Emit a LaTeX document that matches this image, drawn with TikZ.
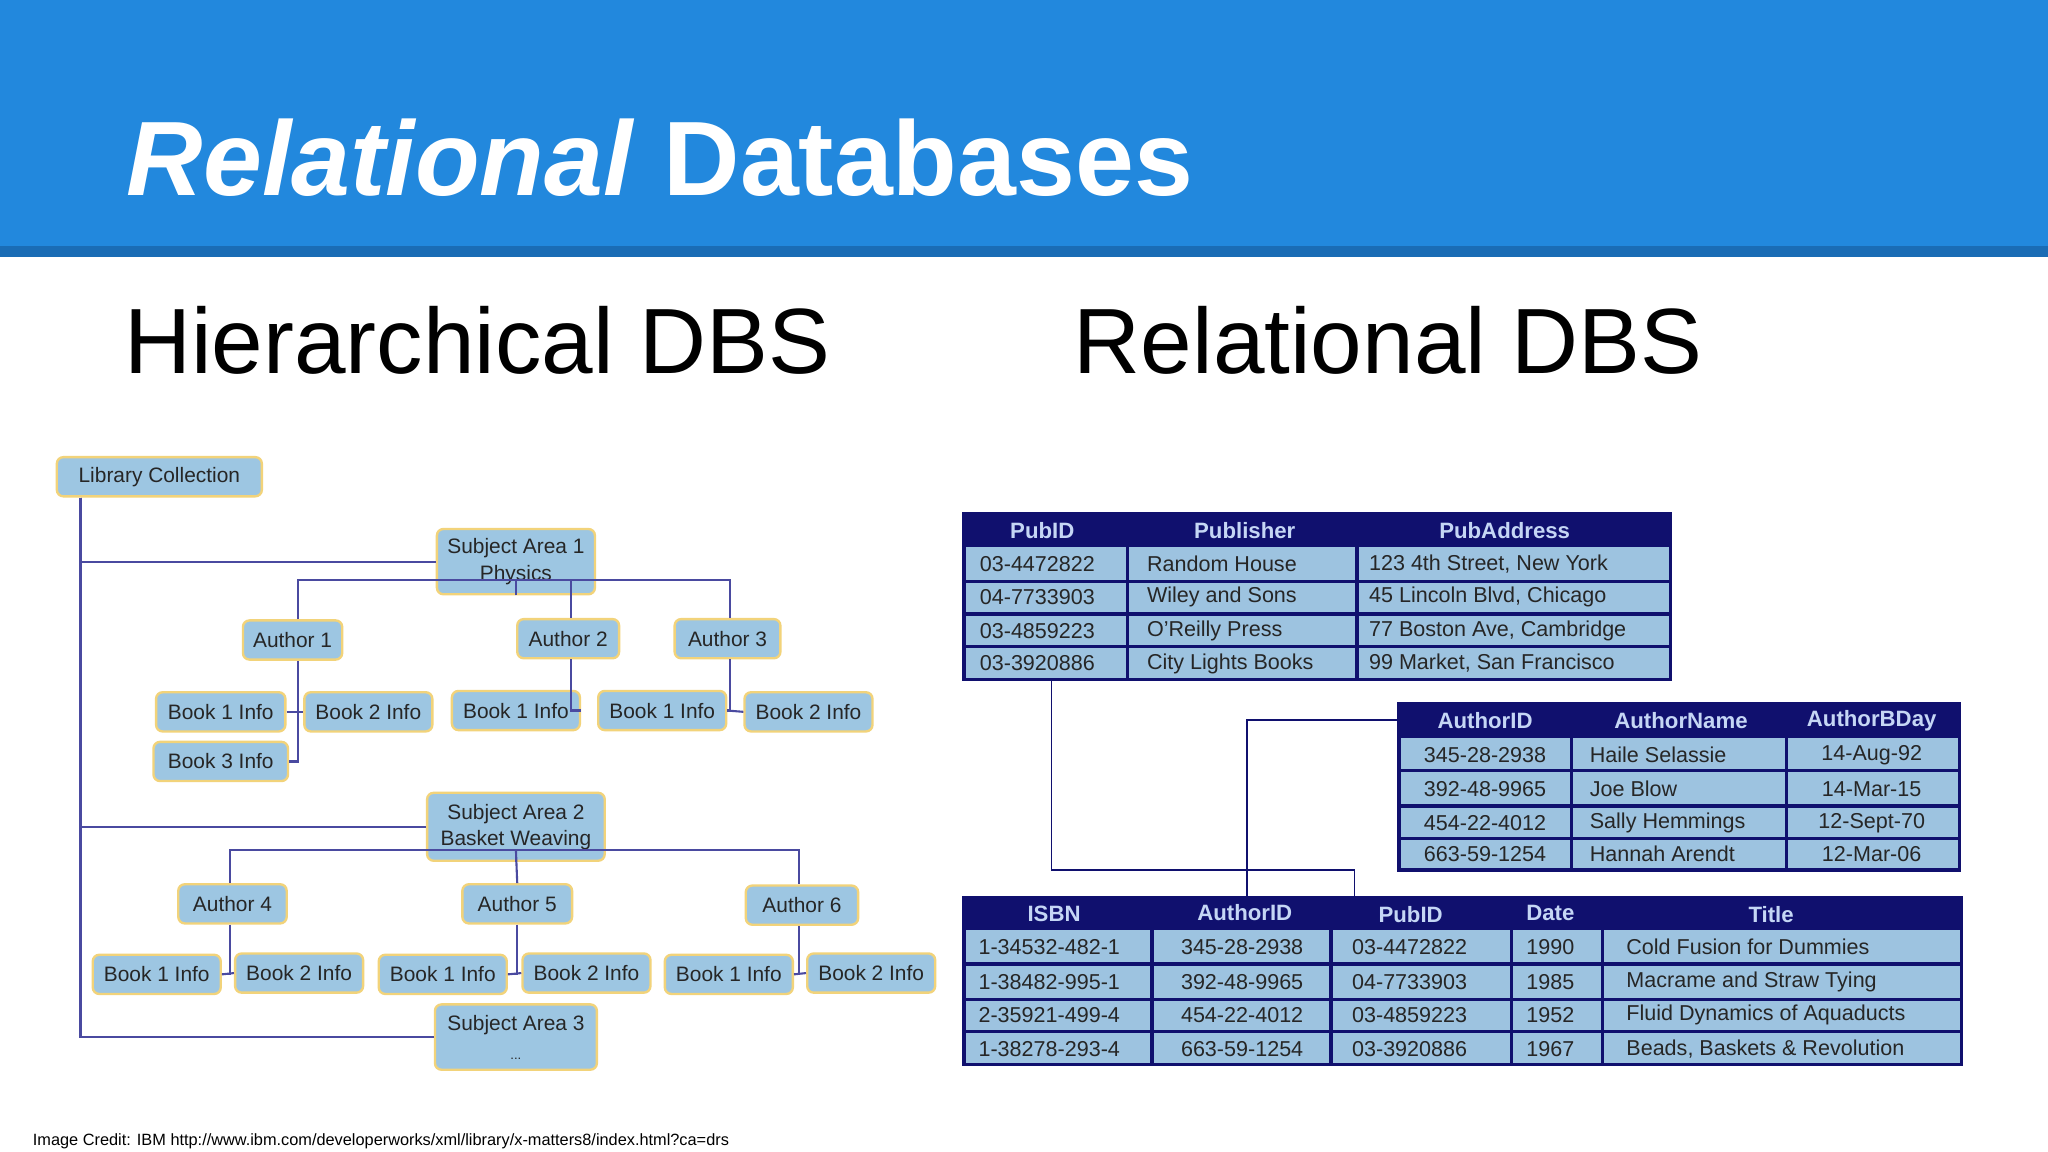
\documentclass[tikz,border=0pt]{standalone}
\usepackage{fontspec}
\setmainfont{Liberation Sans}
\definecolor{band}{HTML}{2288DD}
\definecolor{bandd}{HTML}{1A6CB5}
\definecolor{hfill}{HTML}{9DC6E2}
\definecolor{hbord}{HTML}{F2D37A}
\definecolor{hline}{HTML}{4A4AA0}
\definecolor{navy}{HTML}{10106E}
\definecolor{tfill}{HTML}{9DC3E0}
\definecolor{thead}{HTML}{C5D6F5}
\begin{document}
\begin{tikzpicture}[x=1pt,y=-1pt,
  hbox/.style={draw=hbord,line width=1.8pt,fill=hfill,rounded corners=5pt,inner sep=0pt,minimum height=30pt,align=center,font=\fontsize{16}{20}\selectfont,text=black!85},
  hl/.style={draw=hline,line width=1.6pt},
  tl/.style={draw=navy,line width=1.4pt},
  grid/.style={draw=navy,line width=2.5pt},
  th/.style={font=\fontsize{17}{20}\selectfont\bfseries,text=thead,inner sep=0pt},
  td/.style={font=\fontsize{16.5}{20}\selectfont,text=black!85,inner sep=0pt}]
\useasboundingbox (0,0) rectangle (1568,882);
\fill[white] (0,0) rectangle (1568,882);
\fill[band] (0,0) rectangle (1568,190);
\fill[bandd] (0,188) rectangle (1568,197);
\node[anchor=base west,inner sep=0pt,text=white,font=\fontsize{81}{90}\selectfont\bfseries] (title) at (97,150) {\textit{Relational} Databases};
\node[anchor=base west,inner sep=0pt,font=\fontsize{71}{80}\selectfont] (hh) at (95,286) {Hierarchical DBS};
\node[anchor=base west,inner sep=0pt,font=\fontsize{71}{80}\selectfont] (rh) at (822,286) {Relational DBS};
\node[anchor=base west,inner sep=0pt,font=\fontsize{12.5}{14}\selectfont] (credit) at (25,877) {Image Credit: IBM http://www.ibm.com/developerworks/xml/library/x-matters8/index.html?ca=drs};

% hierarchy
\node[hbox,minimum width=157pt] (lib) at (122,365) {Library Collection};
\node[hbox,minimum width=121pt,minimum height=50pt] (sa1) at (395,430) {Subject Area 1\\Physics};
\node[hbox,minimum width=76pt] (a1) at (224,490) {Author 1};
\node[hbox,minimum width=78pt] (a2) at (435,489) {Author 2};
\node[hbox,minimum width=81pt] (a3) at (557,489) {Author 3};
\node[hbox,minimum width=99pt] (b11) at (169,545) {Book 1 Info};
\node[hbox,minimum width=98pt] (b12) at (282,545) {Book 2 Info};
\node[hbox,minimum width=103pt] (b13) at (169,583) {Book 3 Info};
\node[hbox,minimum width=98pt] (b21) at (395,544) {Book 1 Info};
\node[hbox,minimum width=98pt] (b31) at (507,544) {Book 1 Info};
\node[hbox,minimum width=98pt] (b32) at (619,545) {Book 2 Info};
\node[hbox,minimum width=136pt,minimum height=52pt] (sa2) at (395,633) {Subject Area 2\\Basket Weaving};
\node[hbox,minimum width=83pt] (a4) at (178,692) {Author 4};
\node[hbox,minimum width=84pt] (a5) at (396,692) {Author 5};
\node[hbox,minimum width=86pt] (a6) at (614,693) {Author 6};
\node[hbox,minimum width=98pt] (b41) at (120,746) {Book 1 Info};
\node[hbox,minimum width=98pt] (b42) at (229,745) {Book 2 Info};
\node[hbox,minimum width=98pt] (b51) at (339,746) {Book 1 Info};
\node[hbox,minimum width=98pt] (b52) at (449,745) {Book 2 Info};
\node[hbox,minimum width=98pt] (b61) at (558,746) {Book 1 Info};
\node[hbox,minimum width=98pt] (b62) at (667,745) {Book 2 Info};
\node[hbox,minimum width=124pt,minimum height=50pt] (sa3) at (395,794) {Subject Area 3\\[2pt]{\fontsize{10}{10}\selectfont...}};

\coordinate (trunk) at ([xshift=19pt]lib.south west);
\draw[hl] (trunk) |- (sa3.west);
\draw[hl] (trunk) |- (sa1.west);
\draw[hl] (trunk) |- (sa2.west);
\coordinate (j1) at ([yshift=12pt]sa1.south);
\draw[hl] (sa1.south) -- (j1);
\draw[hl] ([xshift=4pt]a1.north) |- (j1) -| ([xshift=2pt]a3.north);
\draw[hl] (j1) -| ([xshift=2pt]a2.north);
\draw[hl] ([xshift=4pt]a1.south) |- (b13.east);
\draw[hl] (b11.east) -- (b12.west);
\draw[hl] ([xshift=2pt]a2.south) |- (b21.east);
\draw[hl] ([xshift=2pt]a3.south) |- (b31.east);
\draw[hl] (b31.east) -- (b32.west);
\coordinate (j2) at ([yshift=9pt]sa2.south);
\draw[hl] (sa2.south) -- (j2);
\draw[hl] ([xshift=-2pt]a4.north) |- (j2) -| ([xshift=-2pt]a6.north);
\draw[hl] (j2) -- (a5.north);
\draw[hl] ([xshift=-2pt]a4.south) |- (b41.east);
\draw[hl] (b41.east) -- (b42.west);
\draw[hl] (a5.south) |- (b51.east);
\draw[hl] (b51.east) -- (b52.west);
\draw[hl] ([xshift=-2pt]a6.south) |- (b61.east);
\draw[hl] (b61.east) -- (b62.west);

% table 1
\fill[tfill] (738,393) rectangle (1279,520);
\fill[navy] (738,393) rectangle (1279,419);
\foreach \y in {445,470,495} \draw[grid] (738,\y) -- (1279,\y);
\foreach \x in {863,1039} \draw[grid] (\x,419) -- (\x,520);
\draw[grid] (738,393) rectangle (1279,520);
\coordinate (t1) at (738,393);
\node[th] (t1h1) at (798,406) {PubID};
\node[th] (t1h2) at (953,406) {Publisher};
\node[th] (t1h3) at (1152,406) {PubAddress};
\foreach \y/\a/\b/\c [count=\i] in {432/03-4472822/Random House/{123 4th Street, New York},457/04-7733903/Wiley and Sons/{45 Lincoln Blvd, Chicago},483/03-4859223/O'Reilly Press/{77 Boston Ave, Cambridge},508/03-3920886/City Lights Books/{99 Market, San Francisco}}{
  \node[td,anchor=west] (t1r\i a) at (750,\y) {\a};
  \node[td,anchor=west] (t1r\i b) at (878,\y) {\b};
  \node[td,anchor=west] (t1r\i c) at (1048,\y) {\c};
}
\coordinate (t1out) at (805,520);

% table 2
\fill[tfill] (1071,539) rectangle (1500,666);
\fill[navy] (1071,539) rectangle (1500,565);
\foreach \y in {590,617,642} \draw[grid] (1071,\y) -- (1500,\y);
\foreach \x in {1203,1368} \draw[grid] (\x,565) -- (\x,666);
\draw[grid] (1071,539) rectangle (1500,666);
\coordinate (t2out) at (1071,551);
\node[th] (t2h1) at (1137,552) {AuthorID};
\node[th] (t2h2) at (1287,552) {AuthorName};
\node[th] (t2h3) at (1433,552) {AuthorBDay};
\foreach \y/\a/\b/\c [count=\i] in {578/345-28-2938/Haile Selassie/14-Aug-92,604/392-48-9965/Joe Blow/14-Mar-15,630/454-22-4012/Sally Hemmings/12-Sept-70,654/663-59-1254/Hannah Arendt/12-Mar-06}{
  \node[td] (t2r\i a) at (1137,\y) {\a};
  \node[td,anchor=west] (t2r\i b) at (1217,\y) {\b};
  \node[td] (t2r\i c) at (1433,\y) {\c};
}

% table 3
\fill[tfill] (738,687) rectangle (1502,815);
\fill[navy] (738,687) rectangle (1502,712);
\foreach \y in {738,765,790} \draw[grid] (738,\y) -- (1502,\y);
\foreach \x in {882,1019,1157,1227} \draw[grid] (\x,712) -- (\x,815);
\draw[grid] (738,687) rectangle (1502,815);
\coordinate (t3a) at (955,687);
\coordinate (t3p) at (1037,687);
\node[th] (t3h1) at (807,700) {ISBN};
\node[th] (t3h2) at (953,699) {AuthorID};
\node[th] (t3h3) at (1080,700) {PubID};
\node[th] (t3h4) at (1187,699) {Date};
\node[th] (t3h5) at (1356,700) {Title};
\foreach \y/\a/\b/\c/\d/\e [count=\i] in {725/1-34532-482-1/345-28-2938/03-4472822/1990/Cold Fusion for Dummies,752/1-38482-995-1/392-48-9965/04-7733903/1985/Macrame and Straw Tying,777/2-35921-499-4/454-22-4012/03-4859223/1952/Fluid Dynamics of Aquaducts,803/1-38278-293-4/663-59-1254/03-3920886/1967/{Beads, Baskets \& Revolution}}{
  \node[td,anchor=west] (t3r\i a) at (749,\y) {\a};
  \node[td] (t3r\i b) at (951,\y) {\b};
  \node[td,anchor=west] (t3r\i c) at (1035,\y) {\c};
  \node[td] (t3r\i d) at (1187,\y) {\d};
  \node[td,anchor=west] (t3r\i e) at (1245,\y) {\e};
}
\draw[tl] (t1out) |- (1037,666) -- (t3p);
\draw[tl] (t2out) -| (t3a);
\end{tikzpicture}
\end{document}
